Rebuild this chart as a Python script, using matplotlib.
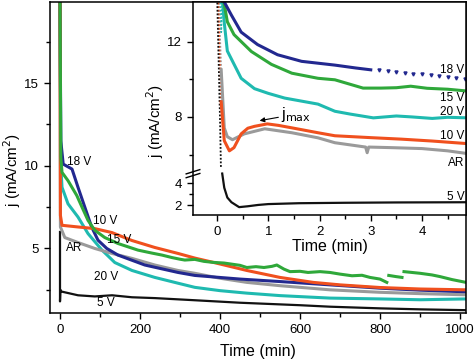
import numpy as np
import matplotlib
matplotlib.use("Agg")
import matplotlib.pyplot as plt
from matplotlib.ticker import MultipleLocator, FixedLocator

plt.rcParams['font.family'] = ['Liberation Sans', 'DejaVu Sans']

# ---- main plot data (time in min, j in mA/cm2) ----
navy_t = [0, 2, 8, 30, 45, 62, 79, 95, 117, 145, 212, 295, 337, 450, 550, 675, 800, 900, 1015]
navy_y = [20, 11.5, 10.1, 9.8, 8.7, 7.5, 6.3, 5.5, 5.0, 4.6, 4.0, 3.55, 3.37, 3.15, 3.0, 2.8, 2.6, 2.48, 2.38]

green_t = [0, 2, 5, 20, 42, 55, 70, 87, 112, 145, 195, 230, 255, 280, 300, 312, 337, 360, 383, 410,
           430, 450, 467, 490, 510, 530, 542, 560, 575, 600, 620, 650, 675, 700, 730, 755, 775, 800, 817,
           np.nan, 822, 840, 855, np.nan, 860, 880, 900, 930, 950, 980, 1015]
green_y = [20, 10.5, 9.6, 9.1, 8.2, 7.5, 6.7, 6.1, 5.66, 5.3, 4.9, 4.72, 4.6, 4.45, 4.35, 4.3, 4.34, 4.22, 4.16, 4.12,
           4.05, 3.98, 3.85, 3.9, 3.85, 3.92, 4.0, 3.75, 3.6, 3.62, 3.55, 3.6, 3.55, 3.45, 3.35, 3.38, 3.25, 3.15, 2.95,
           np.nan, 3.37, 3.3, 3.25, np.nan, 3.6, 3.55, 3.5, 3.4, 3.3, 3.12, 2.95]

orange_t = [0, 1, 5, 45, 87, 130, 180, 237, 295, 337, 383, 467, 550, 633, 700, 800, 900, 1015]
orange_y = [20, 7.0, 6.4, 6.3, 6.2, 5.96, 5.48, 5.06, 4.7, 4.42, 4.16, 3.67, 3.25, 2.95, 2.8, 2.64, 2.55, 2.5]

gray_t = [0, 1, 12, 45, 87, 130, 180, 237, 295, 337, 400, 467, 550, 675, 800, 900, 1015]
gray_y = [20, 6.3, 5.66, 5.36, 5.0, 4.7, 4.4, 4.0, 3.67, 3.5, 3.2, 2.95, 2.75, 2.5, 2.35, 2.27, 2.2]

teal_t = [0, 2, 5, 20, 45, 70, 105, 137, 180, 237, 295, 337, 400, 467, 550, 675, 800, 900, 1015]
teal_y = [20, 10, 8.7, 7.7, 6.9, 5.9, 4.9, 4.15, 3.67, 3.25, 2.9, 2.65, 2.45, 2.3, 2.15, 2.0, 1.95, 1.9, 1.95]

black_t = [0, 0, 1, 3, 12, 45, 87, 130, 180, 237, 337, 450, 600, 675, 800, 900, 1015]
black_y = [6.0, 1.8, 2.5, 2.4, 2.35, 2.17, 2.1, 2.17, 2.05, 2.0, 1.87, 1.72, 1.57, 1.48, 1.38, 1.32, 1.27]

# ---- inset data (first minutes) ----
navy_in_t = [0.12, 0.14, 0.28, 0.47, 0.79, 1.18, 1.65, 2.3, 2.7, 3.0]
navy_in_y = [14.3, 14.1, 13.4, 12.5, 11.84, 11.3, 10.95, 10.75, 10.6, 10.5]
navy_tri_t = [3.17, 3.33, 3.5, 3.66, 3.83, 4.0, 4.17, 4.33, 4.5, 4.66, 4.83]
navy_tri_y = [10.48, 10.45, 10.4, 10.35, 10.3, 10.28, 10.22, 10.18, 10.12, 10.08, 10.0]

green_in_t = [0.12, 0.2, 0.33, 0.67, 1.06, 1.46, 1.97, 2.3, 2.85, 3.2, 3.5, 3.78, 4.1, 4.5, 4.9]
green_in_y = [14.3, 13.05, 12.37, 11.47, 10.79, 10.32, 10.05, 9.97, 9.53, 9.53, 9.55, 9.63, 9.52, 9.47, 9.37]

teal_in_t = [0.1, 0.14, 0.2, 0.47, 0.73, 1.0, 1.32, 1.97, 2.3, 2.6, 3.05, 3.5, 3.8, 4.2, 4.5, 4.9]
teal_in_y = [14.3, 13.0, 11.5, 10.05, 9.5, 9.25, 9.0, 8.68, 8.3, 8.15, 7.95, 8.05, 8.0, 7.92, 7.98, 7.95]

orange_in_t = [0.08, 0.14, 0.24, 0.33, 0.47, 0.6, 0.73, 0.98, 1.2, 1.46, 1.97, 2.3, 3.0, 3.6, 4.2, 4.9]
orange_in_y = [8.8, 6.74, 6.2, 6.37, 7.1, 7.4, 7.5, 7.63, 7.55, 7.42, 7.16, 7.0, 6.9, 6.82, 6.72, 6.58]

gray_in_t = [0.08, 0.14, 0.2, 0.3, 0.53, 0.93, 1.46, 1.97, 2.3, 2.9, 2.93, 2.96, 3.4, 4.0, 4.5, 4.9]
gray_in_y = [10.5, 7.42, 6.95, 6.79, 7.1, 7.37, 7.16, 6.89, 6.63, 6.4, 6.1, 6.4, 6.37, 6.32, 6.2, 6.05]

black_in_t = [0.1, 0.14, 0.2, 0.28, 0.43, 0.6, 0.8, 1.0, 1.6, 2.5, 3.5, 4.9]
black_in_y = [4.9, 3.6, 2.7, 2.27, 1.82, 1.9, 2.02, 2.1, 2.18, 2.22, 2.25, 2.27]

# initial transient (dotted)
dot_black_t = [0.0, 0.03, 0.06, 0.075]
dot_black_y = [14.5, 11, 7.5, 5.3]
dot_orange_t = [0.02, 0.05, 0.08]
dot_orange_y = [14.5, 11, 8.8]
dot_gray_t = [0.03, 0.06, 0.08]
dot_gray_y = [14.5, 12, 10.5]
dot_teal_t = [0.05, 0.08, 0.1]
dot_teal_y = [14.5, 12.5, 14.3]

NAVY = '#22288f'
GREEN = '#2fa83a'
TEAL = '#1fbab0'
ORANGE = '#f0501e'
GRAY = '#9a9a9a'
BLACK = '#111111'

fig = plt.figure(figsize=(4.74, 3.62), dpi=100)
ax = fig.add_axes([0.1055, 0.1354, 0.8776, 0.8591])

lw = 2.2
ax.plot(black_t, black_y, color=BLACK, lw=1.6)
ax.plot(teal_t, teal_y, color=TEAL, lw=lw)
ax.plot(gray_t, gray_y, color=GRAY, lw=lw)
ax.plot(navy_t, navy_y, color=NAVY, lw=lw)
ax.plot(orange_t, orange_y, color=ORANGE, lw=lw)
ax.plot(green_t, green_y, color=GREEN, lw=lw)

ax.set_xlim(-25, 1015)
ax.set_ylim(1.1, 19.9)
ax.xaxis.set_major_locator(MultipleLocator(200))
ax.xaxis.set_minor_locator(MultipleLocator(100))
ax.yaxis.set_major_locator(FixedLocator([5, 10, 15]))
ax.yaxis.set_minor_locator(FixedLocator([2.5, 7.5, 12.5, 17.5]))
ax.tick_params(which='major', length=4.5, width=1, labelsize=9.5, direction='out')
ax.tick_params(which='minor', length=3, width=1, direction='out')
ax.set_xlabel('Time (min)', fontsize=11.5, labelpad=6)
ax.set_ylabel('j (mA/cm$^2$)', fontsize=11)
ax.yaxis.set_label_coords(-0.066, 0.46)
for s in ax.spines.values():
    s.set_linewidth(1.1)

fs = 8.5
ax.text(17, 10.2, '18 V', fontsize=fs, va='center')
ax.text(82, 6.65, '10 V', fontsize=fs, va='center')
ax.text(117, 5.5, '15 V', fontsize=fs, va='center')
ax.text(16, 5.0, 'AR', fontsize=fs, va='center')
ax.text(85, 3.25, '20 V', fontsize=fs, va='center')
ax.text(92, 1.7, '5 V', fontsize=fs, va='center')

# ---- inset with broken y axis ----
def fwd(y):
    y = np.asarray(y, dtype=float)
    return np.where(y < 5.125, 11 * y - 22, 19 * y - 63)

def inv(v):
    v = np.asarray(v, dtype=float)
    return np.where(v < 34.375, (v + 22) / 11, (v + 63) / 19)

ins = fig.add_axes([0.4072, 0.4061, 0.576, 0.5884])
ins.set_yscale('function', functions=(fwd, inv))

dl = dict(lw=1.3, linestyle=(0, (1, 1)))
ins.plot(dot_teal_t, dot_teal_y, color=TEAL, **dl)
ins.plot(dot_gray_t, dot_gray_y, color=GRAY, **dl)
ins.plot(dot_orange_t, dot_orange_y, color=ORANGE, **dl)
ins.plot(dot_black_t, dot_black_y, color=BLACK, **dl)

ins.plot(black_in_t, black_in_y, color=BLACK, lw=1.6)
ins.plot(gray_in_t, gray_in_y, color=GRAY, lw=lw)
ins.plot(orange_in_t, orange_in_y, color=ORANGE, lw=lw)
ins.plot(teal_in_t, teal_in_y, color=TEAL, lw=lw)
ins.plot(green_in_t, green_in_y, color=GREEN, lw=lw)
ins.plot(navy_in_t, navy_in_y, color=NAVY, lw=lw)
ins.plot(navy_tri_t, navy_tri_y, color=NAVY, linestyle='none', marker='v', markersize=2.2)

ins.set_xlim(-0.47, 4.86)
ins.set_ylim(1.1, 14.1)
ins.xaxis.set_major_locator(MultipleLocator(1))
ins.xaxis.set_minor_locator(MultipleLocator(0.5))
ins.yaxis.set_major_locator(FixedLocator([2, 4, 8, 12]))
ins.yaxis.set_minor_locator(FixedLocator([3, 6, 10]))
ins.yaxis.set_major_formatter(plt.FuncFormatter(lambda v, p: f'{v:g}'))
ins.yaxis.set_minor_formatter(plt.NullFormatter())
ins.tick_params(which='major', length=4.5, width=1, labelsize=9.5, direction='out')
ins.tick_params(which='minor', length=3, width=1, direction='out')
ins.set_xlabel('Time (min)', fontsize=11.5, labelpad=1)
ins.set_ylabel('j (mA/cm$^2$)', fontsize=11)
ins.yaxis.set_label_coords(-0.1, 0.44)
for s in ins.spines.values():
    s.set_linewidth(1.1)

# axis break marks
ins.plot([-0.03, 0.03], [0.182, 0.202], transform=ins.transAxes, color='white', lw=3, clip_on=False)
for dy in (0.0, 0.018):
    ins.plot([-0.025, 0.025], [0.175 + dy, 0.195 + dy], transform=ins.transAxes,
             color='black', lw=1, clip_on=False)

ins.annotate('j$_{\\mathrm{max}}$', xy=(0.83, 7.8), xytext=(1.25, 8.15), fontsize=11.5,
             va='center', ha='left',
             arrowprops=dict(arrowstyle='-|>', color='black', lw=0.8, mutation_scale=7,
                             shrinkA=0, shrinkB=0))

fs2 = 8.5
ins.text(4.83, 10.47, '18 V', fontsize=fs2, va='center', ha='right')
ins.text(4.83, 9.0, '15 V', fontsize=fs2, va='center', ha='right')
ins.text(4.83, 8.26, '20 V', fontsize=fs2, va='center', ha='right')
ins.text(4.83, 7.0, '10 V', fontsize=fs2, va='center', ha='right')
ins.text(4.83, 5.53, 'AR', fontsize=fs2, va='center', ha='right')
ins.text(4.83, 2.73, '5 V', fontsize=fs2, va='center', ha='right')

fig.savefig('out.png', dpi=100)
